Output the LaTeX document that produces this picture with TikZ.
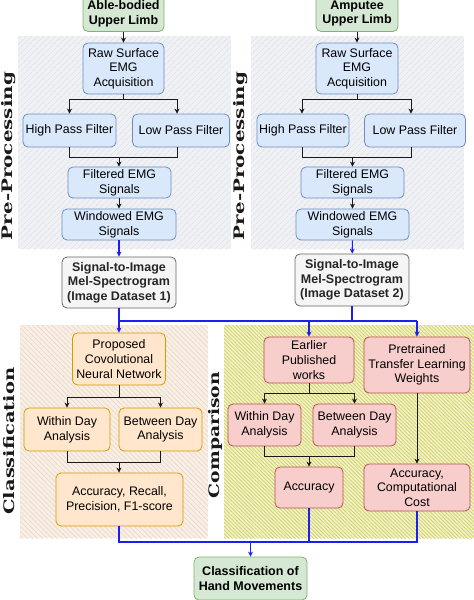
\documentclass[tikz,border=0pt]{standalone}
\usepackage{fontspec}
\setmainfont{Liberation Sans}
\newfontfamily\labfont{DejaVu Serif}
\usepackage{graphicx}
\usetikzlibrary{arrows.meta,patterns.meta}
\definecolor{bfill}{HTML}{DAE8FC}\definecolor{bdraw}{HTML}{6C8EBF}
\definecolor{gfill}{HTML}{D5E8D4}\definecolor{gdraw}{HTML}{82B366}
\definecolor{ofill}{HTML}{FFE6CC}\definecolor{odraw}{HTML}{D79B00}
\definecolor{rfill}{HTML}{F8CECC}\definecolor{rdraw}{HTML}{B85450}
\definecolor{sfill}{HTML}{F5F5F5}\definecolor{sdraw}{HTML}{666666}
\definecolor{ppbg}{HTML}{EFF1F5}\definecolor{ppln}{HTML}{D9DDE4}
\definecolor{clbg}{HTML}{F8EEE4}\definecolor{clln}{HTML}{E6D6C4}
\definecolor{cmbg}{HTML}{F2F2C6}\definecolor{cmln}{HTML}{CFCF66}
\definecolor{blueline}{HTML}{1E1EF0}
\begin{document}
\begin{tikzpicture}[x=1pt,y=-1pt,
  box/.style={draw, rounded corners=5pt, line width=0.8pt, align=center, inner sep=0pt,
    font=\fontsize{12.4}{14.6}\selectfont, text=black},
  bluebox/.style={box, fill=bfill, draw=bdraw},
  greenbox/.style={box, fill=gfill, draw=gdraw, font=\bfseries\fontsize{12.5}{14.6}\selectfont},
  graybox/.style={box, fill=sfill, draw=sdraw, text=black!85, font=\bfseries\fontsize{12.5}{14.6}\selectfont},
  orbox/.style={box, fill=ofill, draw=odraw},
  redbox/.style={box, fill=rfill, draw=rdraw},
  sz/.style 2 args={minimum width=#1pt, minimum height=#2pt},
  ln/.style={line width=0.8pt, draw=black!90},
  bl/.style={line width=1.1pt, draw=blueline},
  arr/.style={-{Stealth[length=5pt,width=5pt]}},
  side/.style={rotate=90, inner sep=0pt, text=black!90, font=\labfont\bfseries\fontsize{14.5}{16}\selectfont}
]
\useasboundingbox (0,0) rectangle (474,600);
% panels
\fill[ppbg] (18,36) rectangle (231,249);
\fill[pattern={Lines[angle=45,distance=4pt,line width=0.5pt]}, pattern color=ppln] (18,36) rectangle (231,249);
\fill[ppbg] (251,36) rectangle (464,249);
\fill[pattern={Lines[angle=45,distance=4pt,line width=0.5pt]}, pattern color=ppln] (251,36) rectangle (464,249);
\fill[clbg] (20,325) rectangle (208,538);
\fill[pattern={Lines[angle=135,distance=3.5pt,line width=0.5pt]}, pattern color=clln] (20,325) rectangle (208,538);
\fill[cmbg] (224,325) rectangle (474,538);
\fill[pattern={Lines[angle=135,distance=2.6pt,line width=0.7pt]}, pattern color=cmln] (224,325) rectangle (474,538);
% side labels
\node[side] (lab1) at (9,156) {\resizebox{168pt}{\height}{Pre-Processing}};
\node[side] (lab2) at (241,156) {\resizebox{168pt}{\height}{Pre-Processing}};
\node[side] (lab3) at (9,441) {\resizebox{147pt}{\height}{Classification}};
\node[side] (lab4) at (215,435) {\resizebox{126pt}{\height}{Comparison}};
% left column
\node[greenbox, sz={81}{36}] (able) at (123.5,13.5) {Able-bodied\\Upper Limb};
\node[bluebox, sz={81}{51}] (raw1) at (123.5,68.5) {Raw Surface\\EMG\\Acquisition};
\node[bluebox, sz={93}{33}] (hpf1) at (69.5,130.5) {High Pass Filter};
\node[bluebox, sz={97}{33}] (lpf1) at (181,130.5) {Low Pass Filter};
\node[bluebox, sz={103}{31}] (filt1) at (119.5,182.5) {Filtered EMG\\Signals};
\node[bluebox, sz={114}{31}] (win1) at (119,224.5) {Windowed EMG\\Signals};
\node[graybox, sz={114}{51}] (sig1) at (119,282.5) {Signal-to-Image\\Mel-Spectrogram\\(Image Dataset 1)};
\node[orbox, sz={93}{52}] (cnn) at (119,359) {Proposed\\Covolutional\\Neural Network};
\node[orbox, sz={86}{43}] (wd1) at (67,429.5) {Within Day\\Analysis};
\node[orbox, sz={83}{43}] (bd1) at (160.5,429.5) {Between Day\\Analysis};
\node[orbox, sz={127}{53}] (acc1) at (119.5,499.5) {Accuracy, Recall,\\Precision, F1-score};
% right column
\node[greenbox, sz={82}{36}] (amp) at (357,13.5) {Amputee\\Upper Limb};
\node[bluebox, sz={82}{51}] (raw2) at (357,68.5) {Raw Surface\\EMG\\Acquisition};
\node[bluebox, sz={92}{33}] (hpf2) at (303,130.5) {High Pass Filter};
\node[bluebox, sz={101}{33}] (lpf2) at (415,130.5) {Low Pass Filter};
\node[bluebox, sz={103}{31}] (filt2) at (352.5,182.5) {Filtered EMG\\Signals};
\node[bluebox, sz={113}{31}] (win2) at (352.5,224.5) {Windowed EMG\\Signals};
\node[graybox, sz={114}{52}] (sig2) at (352,280) {Signal-to-Image\\Mel-Spectrogram\\(Image Dataset 2)};
\node[redbox, sz={90}{46}] (earl) at (309,360) {Earlier\\Published\\works};
\node[redbox, sz={106}{56}] (pre) at (417,365) {Pretrained\\Transfer Learning\\Weights};
\node[redbox, sz={73}{42}] (wd2) at (264.5,425) {Within Day\\Analysis};
\node[redbox, sz={83}{42}] (bd2) at (354.5,425) {Between Day\\Analysis};
\node[redbox, sz={68}{41}] (acc2) at (309,487.5) {Accuracy};
\node[redbox, sz={106}{47}] (accc) at (417,487.5) {Accuracy,\\Computational\\Cost};
\node[greenbox, sz={113}{43}] (hand) at (250.5,578.5) {Classification of\\Hand Movements};
% junction coordinates
\coordinate (j1) at (123.5,99);
\coordinate (m1) at (119,157);
\coordinate (j2) at (357,99);
\coordinate (m2) at (352.5,157);
\coordinate (b1) at (119,321);
\coordinate (j3) at (119,397);
\coordinate (m3) at (119,462);
\coordinate (j4) at (309,393);
\coordinate (m4) at (309,456);
\coordinate (c1) at (119,542);
% left pre-processing connectors
\draw[ln,arr] (able) -- (raw1);
\draw[ln] (raw1.south) -- (j1);
\draw[ln,arr] (j1) -| (hpf1.north);
\draw[ln,arr] (j1) -| ([xshift=-4pt]lpf1.north);
\draw[ln] (hpf1.south) |- (m1);
\draw[ln] ([xshift=-4pt]lpf1.south) |- (m1);
\draw[ln,arr] (m1) -- (m1 |- filt1.north);
\draw[ln,arr] (filt1.south -| win1) -- (win1.north);
\draw[bl,arr] (win1) -- (sig1);
% right pre-processing connectors
\draw[ln,arr] (amp) -- (raw2);
\draw[ln] (raw2.south) -- (j2);
\draw[ln,arr] (j2) -| ([xshift=-1pt]hpf2.north);
\draw[ln,arr] (j2) -| ([xshift=-4pt]lpf2.north);
\draw[ln] ([xshift=-1pt]hpf2.south) |- (m2);
\draw[ln] ([xshift=-4pt]lpf2.south) |- (m2);
\draw[ln,arr] (m2) -- (filt2.north);
\draw[ln,arr] (filt2) -- (win2);
\draw[bl,arr] (win2) -- (sig2);
% blue distribution
\draw[bl,arr] (sig1) -- (cnn);
\draw[bl] (b1) -- (b1 -| pre.north);
\draw[bl] (sig2.south) -- (sig2.south |- b1);
\draw[bl,arr] (earl.north |- b1) -- (earl.north);
\draw[bl,arr] (pre.north |- b1) -- (pre.north);
% classification
\draw[ln] (cnn.south) -- (j3);
\draw[ln,arr] (j3) -| (wd1.north);
\draw[ln,arr] (j3) -| (bd1.north);
\draw[ln] (wd1.south) |- (m3);
\draw[ln] (bd1.south) |- (m3);
\draw[ln,arr] (m3) -- (m3 |- acc1.north);
% comparison
\draw[ln] (earl.south) -- (j4);
\draw[ln,arr] (j4) -| (wd2.north);
\draw[ln,arr] (j4) -| (bd2.north);
\draw[ln] (wd2.south) |- (m4);
\draw[ln] (bd2.south) |- (m4);
\draw[ln,arr] (m4) -- (acc2.north);
\draw[ln,arr] (pre) -- (accc);
% final blue merge
\draw[bl] (acc1.south -| c1) -- (c1) -- (c1 -| accc.south) -- (accc.south);
\draw[bl] (acc2.south) -- (acc2.south |- c1);
\draw[bl,arr] (hand.north |- c1) -- (hand.north);
\end{tikzpicture}
\end{document}
